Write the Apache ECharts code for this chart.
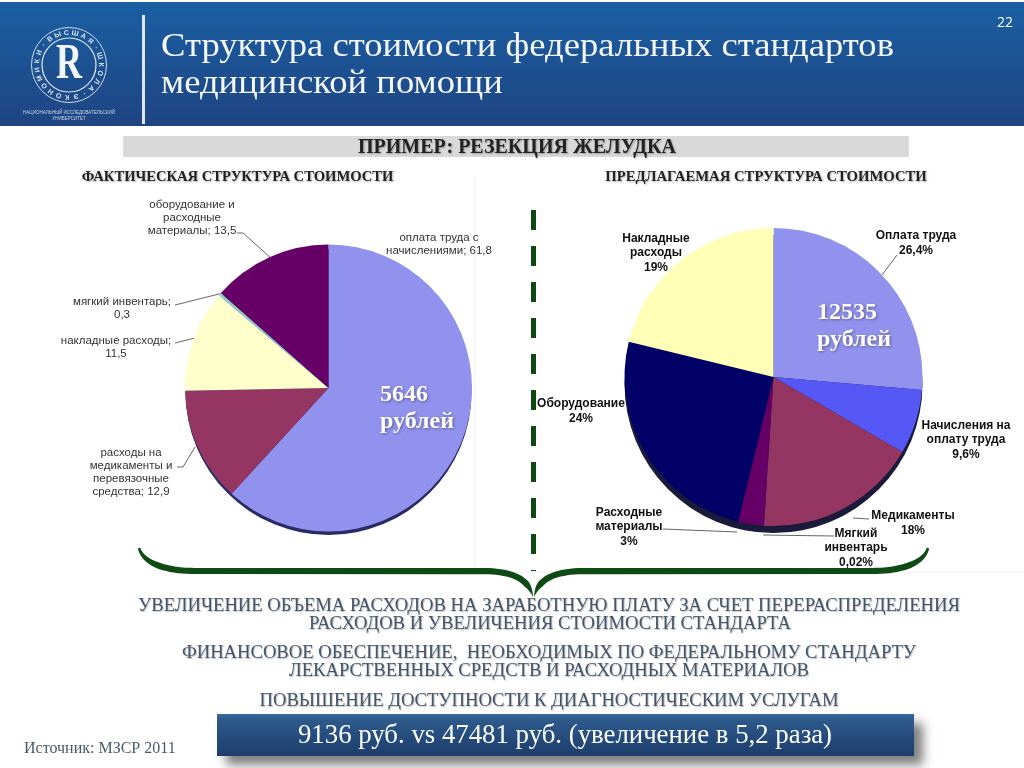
<!DOCTYPE html>
<html>
<head>
<meta charset="utf-8">
<style>html,body{margin:0;padding:0;background:#fff}#main{width:1024px;height:768px}</style>
<script src="https://cdn.jsdelivr.net/npm/echarts@6/dist/echarts.min.js"></script>
</head>
<body>
<div id="main"></div>
<script>
// chart data
const leftValues = [61.8, 12.9, 11.5, 0.3, 13.5]
const leftLabels = [
  'оплата труда с\nначислениями; 61,8',
  'расходы на\nмедикаменты и\nперевязочные\nсредства; 12,9',
  'накладные расходы;\n11,5',
  'мягкий инвентарь;\n0,3',
  'оборудование и\nрасходные\nматериалы; 13,5',
]
const rightValues = [26.4, 7, 17.6, 0.02, 2.8, 25, 21.2]
const rightLabels = [
  'Оплата труда\n26,4%',
  'Начисления на\nоплату труда\n9,6%',
  'Медикаменты\n18%',
  'Мягкий\nинвентарь\n0,02%',
  'Расходные\nматериалы\n3%',
  'Оборудование\n24%',
  'Накладные\nрасходы\n19%',
]

const leftColors = ['#9092ee', '#953562', '#ffffcc', '#8fd0d0', '#660066']
const rightColors = ['#9092ee', '#5558f5', '#953562', '#c9e8e8', '#660066', '#000066', '#ffffb8']

// label placement: x, y, then leader line points
const leftLabelPos = [
  { x: 439, y: 244 },
  { x: 131, y: 472, line: [[177, 467], [183, 467], [195, 447]] },
  { x: 116, y: 347, line: [[175, 343], [195, 338]] },
  { x: 122, y: 308, line: [[175, 305], [223, 293]] },
  { x: 192, y: 218, line: [[237, 233], [243, 233], [271, 258]] },
]
const rightLabelPos = [
  { x: 916, y: 243, line: [[897, 255], [882, 275]] },
  { x: 966, y: 440 },
  { x: 913, y: 523, line: [[869, 519], [853, 518]] },
  { x: 856, y: 548, line: [[834, 536], [763, 535]] },
  { x: 629, y: 527, line: [[663, 529], [737, 532]] },
  { x: 581, y: 411 },
  { x: 656, y: 253 },
]

const SERIF = '"Liberation Serif", serif'
const SANS = '"Liberation Sans", Arial, sans-serif'

function makePie(values, labels, colors, pos, center, radius, labelStyle) {
  return {
    type: 'pie',
    silent: true,
    animation: false,
    center: center,
    radius: radius,
    startAngle: 90,
    clockwise: true,
    avoidLabelOverlap: false,
    itemStyle: { borderWidth: 0 },
    label: Object.assign({ show: true, position: 'outer', alignTo: 'none', fontFamily: SANS }, labelStyle),
    labelLine: { show: true, lineStyle: { color: '#666', width: 1 } },
    labelLayout: (p) => {
      const lp = pos[p.dataIndex]
      const res = { x: lp.x, y: lp.y, align: 'center', verticalAlign: 'middle' }
      if (lp.line) res.labelLinePoints = lp.line
      return res
    },
    data: values.map((v, i) => ({
      value: v,
      name: labels[i],
      itemStyle: { color: colors[i] },
      labelLine: { show: !!pos[i].line },
    })),
  }
}

function txt(text, x, y, size, fill, opts) {
  opts = opts || {}
  return {
    type: 'text',
    x: x,
    y: y,
    z: opts.z || 10,
    scaleX: opts.scaleX || 1,
    silent: true,
    style: {
      text: text,
      fontSize: size,
      fontFamily: opts.family || SERIF,
      fontWeight: opts.weight || 'normal',
      fill: fill,
      align: opts.align || 'center',
      verticalAlign: 'middle',
      textShadowColor: opts.shadow || 'transparent',
      textShadowBlur: opts.blur || 0,
      textShadowOffsetX: opts.dx || 0,
      textShadowOffsetY: opts.dy || 0,
    },
  }
}

// tapered curly brace built as one filled polygon
function bracePoints() {
  const bez = (a, b, c, d, t) => {
    const u = 1 - t
    return [
      u * u * u * a[0] + 3 * u * u * t * b[0] + 3 * u * t * t * c[0] + t * t * t * d[0],
      u * u * u * a[1] + 3 * u * u * t * b[1] + 3 * u * t * t * c[1] + t * t * t * d[1],
    ]
  }
  const mid = []
  for (let t = 0; t <= 1.001; t += 0.05) mid.push(bez([139, 548], [143, 563], [165, 571], [195, 571], t))
  for (let t = 0.05; t <= 1.001; t += 0.05) mid.push(bez([480, 571], [510, 571], [528, 577], [533, 597], t))
  const top = [], bottom = []
  mid.forEach((p, i) => {
    const a = mid[Math.max(i - 1, 0)], b = mid[Math.min(i + 1, mid.length - 1)]
    const dx = b[0] - a[0], dy = b[1] - a[1], len = Math.hypot(dx, dy)
    const k = i / (mid.length - 1)
    const w = k < 0.25 ? 1.2 + 1.9 * k / 0.25 : k > 0.88 ? 3.1 * (1 - k) / 0.12 : 3.1
    top.push([p[0] + dy / len * w, p[1] - dx / len * w])
    bottom.push([p[0] - dy / len * w, p[1] + dx / len * w])
  })
  const left = top.concat(bottom.reverse())
  const right = left.map((p) => [1067 - p[0], p[1]])
  return { left, right }
}

const graphics = []

// header
graphics.push({
  type: 'rect', z: 1, silent: true,
  shape: { x: 0, y: 2, width: 1024, height: 124 },
  style: { fill: new echarts.graphic.LinearGradient(0, 0, 0, 1, [
    { offset: 0, color: '#1a5fa3' }, { offset: 1, color: '#1f4482' },
  ]) },
})
graphics.push({ type: 'rect', z: 2, silent: true, shape: { x: 142, y: 15, width: 3, height: 109 }, style: { fill: '#dfe6f0' } })
graphics.push(txt('Структура стоимости федеральных стандартов', 161, 47, 33, '#f4f7fb', { align: 'left', scaleX: 1.11 }))
graphics.push(txt('медицинской помощи', 161, 84, 33, '#f4f7fb', { align: 'left', scaleX: 1.11 }))
graphics.push(txt('22', 1005, 23, 14, '#fff', { family: '"Open Sans", sans-serif' }))

// logo
const logoX = 69, logoY = 65
graphics.push({ type: 'circle', z: 3, silent: true, shape: { cx: logoX, cy: logoY, r: 37.5 }, style: { fill: 'none', stroke: '#cfdcec', lineWidth: 1 } })
graphics.push({ type: 'circle', z: 3, silent: true, shape: { cx: logoX, cy: logoY, r: 27 }, style: { fill: 'none', stroke: '#dfe8f2', lineWidth: 1.2 } })
const ringText = 'ВЫСШАЯ·ШКОЛА·ЭКОНОМИКИ·'
for (let i = 0; i < ringText.length; i++) {
  const a = (i / ringText.length) * Math.PI * 2 - 2.2
  graphics.push({
    type: 'text', z: 3, silent: true,
    x: logoX + 32 * Math.cos(a), y: logoY + 32 * Math.sin(a),
    rotation: -a - Math.PI / 2,
    style: { text: ringText[i], fontSize: 7, fontFamily: SANS, fontWeight: 'bold', fill: '#dbe5f0', align: 'center', verticalAlign: 'middle' },
  })
}
graphics.push(txt('R', logoX, logoY, 50, '#f2f5f9', { weight: 'bold', z: 3, scaleX: 0.72 }))
graphics.push(txt('НАЦИОНАЛЬНЫЙ ИССЛЕДОВАТЕЛЬСКИЙ', 69, 113, 4.5, '#c8d4e4', { family: SANS }))
graphics.push(txt('УНИВЕРСИТЕТ', 69, 119, 4.5, '#c8d4e4', { family: SANS }))

// subtitle strip and chart titles
graphics.push({ type: 'rect', z: 1, silent: true, shape: { x: 123, y: 136, width: 786, height: 21 }, style: { fill: '#d9d9d9' } })
graphics.push(txt('ПРИМЕР: РЕЗЕКЦИЯ ЖЕЛУДКА', 517, 148, 20, '#222', { weight: 'bold', shadow: 'rgba(0,0,0,0.3)', blur: 2, dx: 1, dy: 1 }))
graphics.push(txt('ФАКТИЧЕСКАЯ СТРУКТУРА СТОИМОСТИ', 237.5, 177, 14.6, '#222', { weight: 'bold', shadow: 'rgba(0,0,0,0.3)', blur: 2, dx: 1, dy: 1 }))
graphics.push(txt('ПРЕДЛАГАЕМАЯ СТРУКТУРА СТОИМОСТИ', 766, 177, 14.7, '#222', { weight: 'bold', shadow: 'rgba(0,0,0,0.3)', blur: 2, dx: 1, dy: 1 }))

// faint panel edge of the right picture
graphics.push({ type: 'polyline', z: 1, silent: true, shape: { points: [[475, 175], [475, 572], [1024, 572]] }, style: { fill: 'none', stroke: '#f1f1f1', lineWidth: 1 } })

// pie rims, sitting under the series
graphics.push({ type: 'circle', z: 1, silent: true, shape: { cx: 328.5, cy: 392, r: 143 }, style: { fill: '#2a2a66' } })
graphics.push({ type: 'circle', z: 1, silent: true, shape: { cx: 773.5, cy: 384, r: 149 }, style: { fill: '#1a1a3a' } })

// amounts on the pies
const amountOpts = { weight: 'bold', z: 12, align: 'left', shadow: 'rgba(70,70,110,0.7)', blur: 3, dx: 1, dy: 1 }
graphics.push(txt('5646', 380, 395, 24, '#fff', amountOpts))
graphics.push(txt('рублей', 380, 422, 24, '#fff', amountOpts))
graphics.push(txt('12535', 817, 313, 24, '#fff', amountOpts))
graphics.push(txt('рублей', 817, 340, 24, '#fff', amountOpts))

// dashed divider and brace
graphics.push({ type: 'line', z: 5, silent: true, shape: { x1: 533.5, y1: 210, x2: 533.5, y2: 571 }, style: { stroke: '#0c4a12', lineWidth: 5, lineDash: [20, 16] } })
const brace = bracePoints()
graphics.push({ type: 'polygon', z: 6, silent: true, shape: { points: brace.left }, style: { fill: '#0f4a14' } })
graphics.push({ type: 'polygon', z: 6, silent: true, shape: { points: brace.right }, style: { fill: '#0f4a14' } })

// conclusions
const noteColor = '#44546a'
const noteOpts = { scaleX: 0.98, shadow: 'rgba(0,0,0,0.25)', blur: 1, dx: 1, dy: 1 }
graphics.push(txt('УВЕЛИЧЕНИЕ ОБЪЕМА РАСХОДОВ НА ЗАРАБОТНУЮ ПЛАТУ ЗА СЧЕТ ПЕРЕРАСПРЕДЕЛЕНИЯ', 549, 606, 19, noteColor, noteOpts))
graphics.push(txt('РАСХОДОВ И УВЕЛИЧЕНИЯ СТОИМОСТИ СТАНДАРТА', 550, 624, 19, noteColor, noteOpts))
graphics.push(txt('ФИНАНСОВОЕ ОБЕСПЕЧЕНИЕ,  НЕОБХОДИМЫХ ПО ФЕДЕРАЛЬНОМУ СТАНДАРТУ', 549, 653, 19, noteColor, noteOpts))
graphics.push(txt('ЛЕКАРСТВЕННЫХ СРЕДСТВ И РАСХОДНЫХ МАТЕРИАЛОВ', 549, 671, 19, noteColor, noteOpts))
graphics.push(txt('ПОВЫШЕНИЕ ДОСТУПНОСТИ К ДИАГНОСТИЧЕСКИМ УСЛУГАМ', 549, 701, 19, noteColor, noteOpts))

// total bar
graphics.push({
  type: 'rect', z: 4, silent: true,
  shape: { x: 217, y: 714, width: 697, height: 42 },
  style: {
    fill: new echarts.graphic.LinearGradient(0, 0, 0, 1, [
      { offset: 0, color: '#3a6a9c' }, { offset: 0.12, color: '#2d5a8c' }, { offset: 1, color: '#1d3d6c' },
    ]),
    shadowColor: 'rgba(0,0,0,0.5)', shadowBlur: 10, shadowOffsetX: 9, shadowOffsetY: 9,
  },
})
graphics.push(txt('9136 руб. vs 47481 руб. (увеличение в 5,2 раза)', 565, 736, 26.8, '#fff', { z: 11 }))
graphics.push(txt('Источник: МЗСР 2011', 24, 749, 16, '#4a5a6c', { align: 'left' }))

const chart = echarts.init(document.getElementById('main'), null, { renderer: 'canvas' })
chart.setOption({
  backgroundColor: '#fff',
  animation: false,
  tooltip: { show: false },
  graphic: { elements: graphics },
  series: [
    makePie(leftValues, leftLabels, leftColors, leftLabelPos, [328.5, 388], 143.5, { fontSize: 11.5, color: '#333', lineHeight: 13 }),
    makePie(rightValues, rightLabels, rightColors, rightLabelPos, [773.5, 377], 149, { fontSize: 12, color: '#111', fontWeight: 'bold', lineHeight: 14.7 }),
  ],
})
</script>
</body>
</html>
